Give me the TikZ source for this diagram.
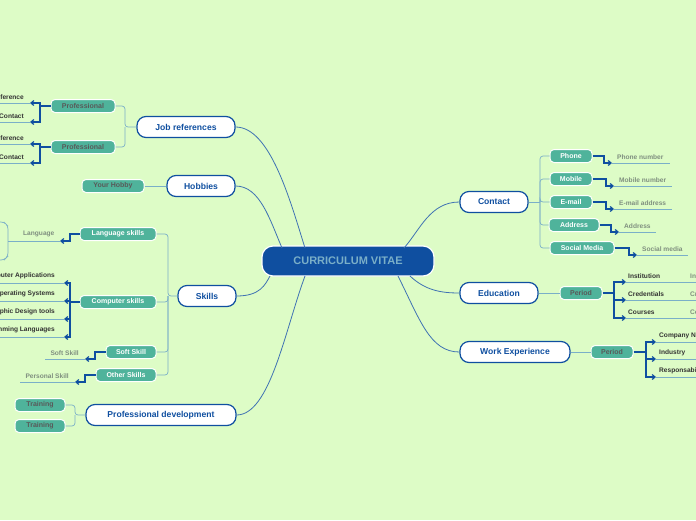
\documentclass[tikz,border=0pt]{standalone}
\usepackage{fontspec}
\setmainfont{Liberation Sans}
\usetikzlibrary{arrows.meta}
\definecolor{bg}{HTML}{DDFCC6}
\definecolor{dblue}{HTML}{0F4FA0}
\definecolor{teal1}{HTML}{4FB39B}
\definecolor{lblue}{HTML}{7AAFC8}
\definecolor{gtext}{HTML}{7F8F7F}
\tikzset{
 x=1pt,y=-1pt,
 central/.style={draw=white,line width=1.2pt,fill=dblue,rounded corners=11pt,minimum width=172pt,minimum height=30pt,text=lblue,font=\bfseries\fontsize{11}{13}\selectfont},
 mainbox/.style={draw=dblue,line width=1.2pt,fill=white,rounded corners=9pt,minimum height=21pt,text=dblue,font=\bfseries\fontsize{8.6}{10}\selectfont},
 tealbox/.style={draw=white,line width=1pt,fill=teal1,rounded corners=4pt,minimum height=13pt,inner ysep=1pt,font=\bfseries\fontsize{7}{8}\selectfont},
 tw/.style={tealbox,text=white},
 tg/.style={tealbox,text=gray!70!black},
 mainlink/.style={draw=dblue!80,line width=0.8pt},
 sublink/.style={draw=lblue,line width=0.7pt,rounded corners=3pt},
 arr/.style={draw=dblue,line width=1.2pt,-{Straight Barb[length=3pt,width=5pt]}},
 leafline/.style={draw=lblue,line width=0.8pt},
 dark/.style={font=\bfseries\fontsize{6.6}{7}\selectfont,text=black!80,inner sep=1pt},
 grey/.style={font=\bfseries\fontsize{6.6}{7}\selectfont,text=gtext,inner sep=1pt},
}
\begin{document}
\begin{tikzpicture}
\fill[bg] (0,0) rectangle (696,520);
\useasboundingbox (0,0) rectangle (696,520);
% central
\node[central] (cv) at (348,261) {CURRICULUM VITAE};
% main nodes
\node[mainbox,minimum width=98pt] (job) at (186,127) {Job references};
\node[mainbox,minimum width=68pt] (hob) at (201,186) {Hobbies};
\node[mainbox,minimum width=58pt] (ski) at (207,296) {Skills};
\node[mainbox,minimum width=150pt] (pro) at (161,415) {Professional development};
\node[mainbox,minimum width=68pt] (con) at (494,202) {Contact};
\node[mainbox,minimum width=78pt] (edu) at (499,293) {Education};
\node[mainbox,minimum width=110pt] (wor) at (515,352) {Work Experience};
% main links
\draw[mainlink] (job.east) .. controls (270,127) and (290,200) .. (305,248);
\draw[mainlink] (hob.east) .. controls (260,186) and (270,220) .. (282,248);
\draw[mainlink] (ski.east) .. controls (260,296) and (265,285) .. (270,276);
\draw[mainlink] (pro.east) .. controls (270,415) and (285,330) .. (305,276);
\draw[mainlink] (con.west) .. controls (430,202) and (420,230) .. (404,248);
\draw[mainlink] (edu.west) .. controls (440,293) and (425,290) .. (410,276);
\draw[mainlink] (wor.west) .. controls (430,352) and (420,320) .. (398,276);
% teal nodes left
\node[tg,minimum width=64pt] (p1) at (83,106) {Professional};
\node[tg,minimum width=64pt] (p2) at (83,147) {Professional};
\node[tg,minimum width=62pt] (yh) at (113,186) {Your Hobby};
\node[tw,minimum width=76pt] (ls) at (118,234) {Language skills};
\node[tw,minimum width=76pt] (cs) at (118,302) {Computer skills};
\node[tw,minimum width=50pt] (ss) at (131,352) {Soft Skill};
\node[tw,minimum width=60pt] (os) at (126,375) {Other Skills};
\node[tg,minimum width=50pt] (t1) at (40,405) {Training};
\node[tg,minimum width=50pt] (t2) at (40,426) {Training};
% sub links left
\draw[sublink] (p1.east) -| (125,127) -- (job.west);
\draw[sublink] (p2.east) -| (125,127);
\draw[sublink] (yh.east) -- (hob.west);
\draw[sublink] (ls.east) -| (168,296) -- (ski.west);
\draw[sublink] (cs.east) -| (168,296);
\draw[sublink] (ss.east) -| (168,296);
\draw[sublink] (os.east) -| (168,296);
\draw[sublink] (t1.east) -| (75,415) -- (pro.west);
\draw[sublink] (t2.east) -| (75,415);
% right teal
\node[tw,minimum width=42pt] (ph) at (571,156) {Phone};
\node[tw,minimum width=42pt] (mo) at (571,179) {Mobile};
\node[tw,minimum width=42pt] (em) at (571,202) {E-mail};
\node[tw,minimum width=50pt] (ad) at (574,225) {Address};
\node[tw,minimum width=64pt] (sm) at (582,248) {Social Media};
\node[tg,minimum width=42pt] (pe1) at (581,293) {Period};
\node[tg,minimum width=42pt] (pe2) at (612,352) {Period};
\draw[sublink] (con.east) -- (540,202);
\foreach \n in {ph,mo,em,ad,sm}{\draw[sublink] (\n.west) -| (540,202);}
\draw[sublink] (edu.east) -- (pe1.west);
\draw[sublink] (wor.east) -- (pe2.west);
% left leaves (job refs)
\foreach \y/\t in {96/Reference,115/Contact,137/Reference,156/Contact}{
 \node[dark,anchor=south east] (l\y) at (25,\y+5) {\t};
 \coordinate (c\y) at (30,\y+7);
 \draw[leafline] (0,\y+7) -- (c\y);}
\draw[arr] (p1.west) -- (40,106) |- (c96);
\draw[arr] (40,106) |- (c115);
\draw[arr] (p2.west) -- (40,147) |- (c137);
\draw[arr] (40,147) |- (c156);
% language
\draw[sublink] (-10,222) -- (4,222) -- (8,226) -- (8,256) -- (4,260) -- (-10,260);
\draw[leafline] (8,241) -- (60,241);
\node[grey,anchor=south west] (lang) at (22,238) {Language};
\coordinate (lc) at (60,241);
\draw[arr] (ls.west) -- (70,234) |- (lc);
% computer skills
\foreach \y/\t in {275/Computer Applications,293/Operating Systems,311/Graphic Design tools,329/Programming Languages}{
 \node[dark,anchor=south east] (k\y) at (56,\y+5) {\t};
 \coordinate (d\y) at (64,\y+8);
 \draw[leafline] (0,\y+8) -- (d\y);}
\draw[arr] (cs.west) -- (70,302) |- (d275);
\draw[arr] (70,302) |- (d293);
\draw[arr] (70,302) |- (d311);
\draw[arr] (70,302) |- (d329);
% soft / personal
\node[grey,anchor=south east] (sst) at (80,357) {Soft Skill};
\draw[leafline] (45,359) -- (85,359);
\coordinate (sc) at (85,359);
\draw[arr] (ss.west) -- (95,352) |- (sc);
\node[grey,anchor=south east] (pst) at (70,380) {Personal Skill};
\draw[leafline] (20,382) -- (75,382);
\coordinate (pc) at (75,382);
\draw[arr] (os.west) -- (85,375) |- (pc);
% right leaves contact
\foreach \n/\y/\xa/\xb/\t in {ph/156/612/670/Phone number,mo/179/614/672/Mobile number,em/202/614/672/E-mail address,ad/225/619/656/Address,sm/248/637/688/Social media}{
 \coordinate (r\n) at (\xa,\y+7);
 \draw[leafline] (r\n) -- (\xb,\y+7);
 \node[grey,anchor=south west] (t\n) at (\xa+4,\y+5) {\t};
 \draw[arr] (\n.east) -- (\xa-8,\y) |- (r\n);}
% education leaves
\foreach \y/\t/\u in {275/Institution/Institution,293/Credentials/Credentials,311/Courses/Courses}{
 \coordinate (e\y) at (626,\y+7);
 \draw[leafline] (e\y) -- (696,\y+7);
 \node[dark,anchor=south west] (et\y) at (627,\y+5) {\t};
 \node[grey,anchor=south west] (eu\y) at (689,\y+5) {\u};}
\draw[arr] (pe1.east) -- (614,293) |- (e275);
\draw[arr] (614,293) |- (e293);
\draw[arr] (614,293) |- (e311);
% work leaves
\foreach \y/\t in {335/Company Name,352/Industry,370/Responsability}{
 \coordinate (w\y) at (656,\y+7);
 \draw[leafline] (w\y) -- (696,\y+7);
 \node[dark,anchor=south west] (wt\y) at (658,\y+5) {\t};}
\draw[arr] (pe2.east) -- (646,352) |- (w335);
\draw[arr] (646,352) |- (w352);
\draw[arr] (646,352) |- (w370);
\end{tikzpicture}
\end{document}
